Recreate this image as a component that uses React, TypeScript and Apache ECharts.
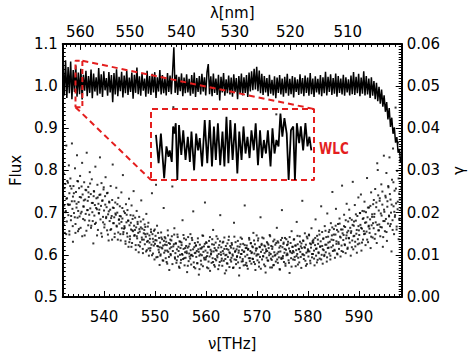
import React, { useEffect, useRef } from "react";
import * as echarts from "echarts";

const C_LIGHT = 299792.458; // nm * THz

const NU_RANGE = [531.9, 598.4];
const FLUX_RANGE = [0.5, 1.1];
const GAMMA_RANGE = [0, 0.06];

const NU_TICKS = [540, 550, 560, 570, 580, 590];
const LAMBDA_TICKS = [560, 550, 540, 530, 520, 510];

// Flux (WLC) sampled on a regular frequency grid
const FLUX_NU_START = 531.95;
const FLUX_NU_STEP = 0.25;
const FLUX_VALUES = [
  1.052, 0.978, 1.061, 0.972, 1.045, 0.983, 1.058, 0.969, 1.038, 0.986,
  1.049, 0.975, 1.032, 0.981, 1.041, 0.968, 1.027, 0.989, 1.036, 0.976,
  1.024, 0.984, 1.039, 0.971, 1.030, 0.987, 1.021, 0.978, 1.043, 0.982,
  1.028, 0.974, 1.035, 0.990, 1.019, 0.977, 1.033, 0.985, 1.026, 0.962,
  1.031, 0.980, 1.040, 0.976, 1.022, 0.988, 1.034, 0.973, 1.025, 0.983,
  1.037, 0.979, 1.020, 0.986, 1.032, 0.970, 1.027, 0.984, 1.044, 0.981,
  1.023, 0.977, 1.030, 0.989, 1.018, 0.975, 1.036, 0.982, 1.024, 0.979,
  1.029, 0.985, 1.033, 0.972, 1.021, 0.987, 1.038, 0.980, 1.026, 0.983,
  1.019, 0.978, 1.031, 0.986, 1.025, 0.981, 1.034, 1.092, 0.984, 1.027,
  0.979, 1.022, 0.988, 1.030, 0.976, 1.020, 0.983, 1.028, 0.985, 1.017,
  0.977, 1.026, 0.982, 1.032, 0.974, 1.019, 0.986, 1.024, 0.980, 1.029,
  0.987, 1.021, 0.978, 1.033, 1.052, 0.981, 1.023, 0.976, 1.030, 0.984,
  1.018, 0.979, 1.027, 0.966, 1.022, 0.985, 1.031, 0.977, 1.016, 0.983,
  1.025, 0.980, 1.020, 0.975, 1.028, 0.986, 1.019, 0.969, 1.024, 0.982,
  1.030, 0.978, 1.021, 0.984, 1.026, 0.974, 1.032, 0.987, 1.035, 0.990,
  1.041, 0.992, 1.046, 0.988, 1.037, 0.983, 1.029, 0.979, 1.024, 0.985,
  1.019, 0.976, 1.027, 0.982, 1.015, 0.978, 1.023, 0.971, 1.020, 0.984,
  1.026, 0.980, 1.018, 0.975, 1.022, 0.983, 1.029, 0.977, 1.017, 0.981,
  1.024, 0.973, 1.021, 0.986, 1.016, 0.979, 1.028, 0.982, 1.019, 0.976,
  1.025, 0.984, 1.020, 0.977, 1.031, 0.981, 1.018, 0.974, 1.023, 0.985,
  1.017, 0.980, 1.026, 0.976, 1.021, 0.983, 1.034, 0.978, 1.022, 0.986,
  1.028, 0.979, 1.019, 0.982, 1.030, 0.975, 1.024, 0.984, 1.018, 0.980,
  1.027, 0.977, 1.021, 0.985, 1.016, 0.978, 1.025, 0.981, 1.033, 0.979,
  1.022, 0.983, 1.029, 0.976, 1.020, 0.982, 1.035, 0.978, 1.024, 0.980,
  1.018, 0.972, 1.021, 0.977, 1.012, 0.969, 1.008, 0.964, 0.998, 0.958,
  0.992, 0.951, 0.978, 0.939, 0.962, 0.921, 0.948, 0.903, 0.925, 0.887,
  0.902, 0.866, 0.879, 0.842, 0.851, 0.818,
];

// gamma points: [nu (THz), gamma (units of 1e-3)] — full spread
const GAMMA_POINTS = [
  [532.0,24.1],[532.1,18.6],[532.1,29.3],[532.2,21.7],[532.3,15.2],[532.4,26.8],[532.5,20.4],[532.6,35.9],[532.6,23.3],[532.7,17.9],[532.8,27.5],[532.9,22.0],
  [533.0,19.4],[533.1,31.2],[533.2,24.6],[533.2,14.8],[533.3,21.9],[533.4,28.1],[533.5,18.2],[533.6,25.7],[533.7,36.4],[533.8,20.9],[533.9,23.8],[533.9,13.1],
  [534.0,26.3],[534.1,19.9],[534.2,22.7],[534.3,30.5],[534.4,17.3],[534.5,24.9],[534.6,21.2],[534.7,33.6],[534.8,18.8],[534.9,27.4],[534.9,15.6],
  [535.0,22.5],[535.1,25.8],[535.2,19.1],[535.3,28.7],[535.4,16.4],[535.5,23.6],[535.6,20.2],[535.7,31.8],[535.8,24.3],[535.9,18.5],
  [536.0,21.4],[536.1,27.2],[536.2,14.6],[536.3,23.1],[536.4,19.7],[536.5,25.3],[536.6,34.2],[536.7,20.6],[536.8,22.8],[536.9,17.0],[536.9,26.1],
  [537.0,23.7],[537.1,18.1],[537.2,29.6],[537.3,21.0],[537.4,24.4],[537.5,16.9],[537.6,27.9],[537.7,20.1],[537.8,22.3],[537.9,12.7],
  [538.0,25.1],[538.1,19.3],[538.2,21.8],[538.3,30.9],[538.4,17.6],[538.5,23.4],[538.6,20.8],[538.7,26.6],[538.8,15.9],[538.9,22.1],
  [539.0,19.8],[539.1,24.2],[539.2,33.1],[539.3,18.4],[539.4,21.6],[539.5,27.0],[539.6,14.3],[539.7,22.9],[539.8,19.0],[539.9,25.5],
  [540.0,20.5],[540.1,17.2],[540.2,23.9],[540.3,28.4],[540.4,18.7],[540.5,21.3],[540.6,15.8],[540.7,24.7],[540.8,19.6],[540.9,13.4],
  [541.0,22.6],[541.1,18.0],[541.2,20.7],[541.3,26.3],[541.4,16.1],[541.5,19.2],[541.6,23.0],[541.7,31.4],[541.8,17.5],[541.9,21.1],
  [542.0,18.9],[542.1,15.0],[542.2,22.4],[542.3,19.5],[542.4,25.9],[542.5,16.7],[542.6,20.0],[542.7,13.6],[542.8,23.5],[542.9,18.3],
  [543.0,17.4],[543.1,21.5],[543.2,14.9],[543.3,19.1],[543.4,24.8],[543.5,16.3],[543.6,18.6],[543.7,28.9],[543.8,15.4],[543.9,20.3],
  [544.0,16.8],[544.1,19.9],[544.2,13.2],[544.3,22.0],[544.4,17.7],[544.5,15.1],[544.6,20.6],[544.7,18.1],[544.8,11.9],[544.9,23.3],
  [545.0,17.0],[545.1,14.4],[545.2,19.4],[545.3,16.0],[545.4,21.7],[545.5,12.8],[545.6,18.5],[545.7,15.6],[545.8,25.1],[545.9,16.9],
  [546.0,14.7],[546.1,18.8],[546.2,12.3],[546.3,16.5],[546.4,20.4],[546.5,13.9],[546.6,17.3],[546.7,15.2],[546.8,10.6],[546.9,19.0],
  [547.0,15.5],[547.1,13.0],[547.2,17.9],[547.3,22.9],[547.4,14.1],[547.5,16.2],[547.6,11.4],[547.7,18.4],[547.8,13.6],[547.9,15.9],
  [548.0,12.5],[548.1,16.6],[548.2,14.3],[548.3,19.7],[548.4,11.1],[548.5,15.0],[548.6,13.3],[548.7,17.6],[548.8,9.8],[548.9,14.6],
  [549.0,13.8],[549.1,11.6],[549.2,16.0],[549.3,12.4],[549.4,24.6],[549.5,14.9],[549.6,10.3],[549.7,13.1],[549.8,15.7],[549.9,8.9],
  [550.0,12.6],[550.1,14.5],[550.2,26.6],[550.3,13.4],[550.4,16.9],[550.5,9.5],[550.6,12.0],[550.7,11.2],[550.8,14.0],[550.9,7.6],
  [551.0,12.9],[551.1,10.1],[551.2,15.3],[551.3,11.7],[551.4,13.7],[551.5,8.7],[551.6,12.2],[551.7,21.1],[551.8,10.5],[551.9,14.2],
  [552.0,11.0],[552.1,9.2],[552.2,13.1],[552.3,12.3],[552.4,7.9],[552.5,15.8],[552.6,10.7],[552.7,12.8],[552.8,6.4],[552.9,11.5],
  [553.0,13.6],[553.1,9.9],[553.2,11.8],[553.3,14.4],[553.4,26.2],[553.5,10.9],[553.6,45.0],[553.7,12.5],[553.8,16.3],[553.9,9.4],
  [554.0,10.4],[554.1,12.7],[554.2,8.1],[554.3,11.3],[554.4,14.8],[554.5,9.6],[554.6,11.9],[554.7,7.2],[554.8,13.2],[554.9,10.0],
  [555.0,11.6],[555.1,8.8],[555.2,12.9],[555.3,10.2],[555.4,18.2],[555.5,9.0],[555.6,11.4],[555.7,13.9],[555.8,7.5],[555.9,10.6],
  [556.0,9.3],[556.1,12.1],[556.2,10.8],[556.3,5.9],[556.4,11.7],[556.5,14.2],[556.6,8.5],[556.7,10.3],[556.8,12.6],[556.9,9.1],
  [557.0,11.1],[557.1,7.7],[557.2,10.0],[557.3,13.5],[557.4,9.7],[557.5,20.3],[557.6,8.2],[557.7,11.8],[557.8,10.4],[557.9,6.8],
  [558.0,12.2],[558.1,9.5],[558.2,10.9],[558.3,8.0],[558.4,13.0],[558.5,11.3],[558.6,5.3],[558.7,9.8],[558.8,12.4],[558.9,10.1],
  [559.0,8.6],[559.1,11.5],[559.2,9.9],[559.3,14.6],[559.4,7.3],[559.5,10.7],[559.6,12.0],[559.7,8.9],[559.8,22.4],[559.9,11.0],
  [560.0,9.4],[560.1,12.8],[560.2,7.0],[560.3,10.5],[560.4,11.9],[560.5,8.4],[560.6,13.3],[560.7,9.6],[560.8,6.2],[560.9,11.2],
  [561.0,10.3],[561.1,8.1],[561.2,12.5],[561.3,9.2],[561.4,15.9],[561.5,10.8],[561.6,7.6],[561.7,11.6],[561.8,9.0],[561.9,12.9],
  [562.0,8.7],[562.1,11.0],[562.2,9.8],[562.3,13.8],[562.4,6.6],[562.5,10.2],[562.6,12.3],[562.7,8.3],[562.8,19.4],[562.9,10.6],
  [563.0,11.8],[563.1,9.1],[563.2,7.4],[563.3,10.9],[563.4,13.1],[563.5,8.6],[563.6,11.4],[563.7,5.6],[563.8,9.9],[563.9,12.1],
  [564.0,10.0],[564.1,8.0],[564.2,12.7],[564.3,9.5],[564.4,11.2],[564.5,14.3],[564.6,7.1],[564.7,10.4],[564.8,8.8],[564.9,11.7],
  [565.0,9.3],[565.1,12.4],[565.2,10.1],[565.3,6.9],[565.4,11.5],[565.5,17.6],[565.6,8.9],[565.7,10.7],[565.8,13.0],[565.9,7.8],
  [566.0,11.3],[566.1,9.7],[566.2,12.0],[566.3,8.2],[566.4,10.5],[566.5,5.1],[566.6,11.9],[566.7,9.4],[566.8,14.1],[566.9,10.2],
  [567.0,8.4],[567.1,11.1],[567.2,9.0],[567.3,12.6],[567.4,7.5],[567.5,10.8],[567.6,21.7],[567.7,9.6],[567.8,11.6],[567.9,8.1],
  [568.0,12.2],[568.1,10.0],[568.2,6.7],[568.3,11.4],[568.4,9.2],[568.5,13.6],[568.6,8.5],[568.7,10.9],[568.8,12.8],[568.9,7.9],
  [569.0,10.6],[569.1,9.1],[569.2,11.8],[569.3,15.2],[569.4,8.3],[569.5,10.3],[569.6,12.5],[569.7,6.4],[569.8,11.0],[569.9,9.8],
  [570.0,11.5],[570.1,8.7],[570.2,13.4],[570.3,10.1],[570.4,7.2],[570.5,11.9],[570.6,9.5],[570.7,18.9],[570.8,10.7],[570.9,12.3],
  [571.0,8.9],[571.1,11.2],[571.2,9.7],[571.3,13.9],[571.4,7.7],[571.5,10.4],[571.6,12.0],[571.7,5.8],[571.8,11.3],[571.9,9.3],
  [572.0,10.9],[572.1,12.7],[572.2,8.6],[572.3,11.6],[572.4,9.9],[572.5,14.7],[572.6,7.0],[572.7,10.2],[572.8,12.1],[572.9,8.8],
  [573.0,11.4],[573.1,9.6],[573.2,13.2],[573.3,7.6],[573.4,10.6],[573.5,9.8],[573.6,12.4],[573.7,8.4],[573.8,43.3],[573.9,16.4],
  [574.0,10.3],[574.1,8.1],[574.2,12.9],[574.3,9.4],[574.4,11.7],[574.5,6.5],[574.6,10.8],[574.7,13.5],[574.8,9.0],[574.9,20.6],
  [575.0,11.8],[575.1,9.7],[575.2,12.6],[575.3,8.3],[575.4,10.5],[575.5,14.0],[575.6,7.4],[575.7,11.2],[575.8,9.9],[575.9,12.3],
  [576.0,10.0],[576.1,13.1],[576.2,8.7],[576.3,11.5],[576.4,5.7],[576.5,10.9],[576.6,12.8],[576.7,9.2],[576.8,15.6],[576.9,10.4],
  [577.0,11.9],[577.1,8.9],[577.2,10.6],[577.3,13.7],[577.4,9.5],[577.5,12.2],[577.6,7.3],[577.7,11.1],[577.8,17.8],[577.9,10.2],
  [578.0,12.5],[578.1,9.3],[578.2,11.4],[578.3,8.2],[578.4,14.4],[578.5,10.7],[578.6,12.0],[578.7,6.9],[578.8,11.6],[578.9,22.8],
  [579.0,10.1],[579.1,13.3],[579.2,9.0],[579.3,11.8],[579.4,15.1],[579.5,8.6],[579.6,12.4],[579.7,10.5],[579.8,7.8],[579.9,13.9],
  [580.0,11.3],[580.1,9.6],[580.2,14.8],[580.3,10.8],[580.4,12.7],[580.5,8.0],[580.6,11.7],[580.7,16.3],[580.8,9.4],[580.9,12.9],
  [581.0,10.2],[581.1,13.6],[581.2,11.0],[581.3,7.5],[581.4,12.3],[581.5,18.4],[581.6,9.8],[581.7,11.5],[581.8,14.5],[581.9,8.8],
  [582.0,12.6],[582.1,10.4],[582.2,15.7],[582.3,9.1],[582.4,11.9],[582.5,13.2],[582.6,21.5],[582.7,10.0],[582.8,12.1],[582.9,7.9],
  [583.0,13.8],[583.1,11.1],[583.2,9.7],[583.3,16.8],[583.4,12.4],[583.5,10.6],[583.6,14.2],[583.7,8.4],[583.8,19.8],[583.9,11.6],
  [584.0,12.9],[584.1,15.4],[584.2,10.3],[584.3,13.1],[584.4,8.9],[584.5,17.5],[584.6,11.8],[584.7,14.6],[584.8,24.9],[584.9,10.9],
  [585.0,13.5],[585.1,16.1],[585.2,11.2],[585.3,9.3],[585.4,14.8],[585.5,20.9],[585.6,12.6],[585.7,15.9],[585.8,10.1],[585.9,17.3],
  [586.0,13.0],[586.1,11.4],[586.2,18.6],[586.3,14.3],[586.4,9.6],[586.5,16.0],[586.6,12.2],[586.7,26.4],[586.8,15.1],[586.9,10.7],
  [587.0,14.7],[587.1,19.5],[587.2,12.5],[587.3,16.6],[587.4,10.4],[587.5,13.9],[587.6,22.1],[587.7,15.3],[587.8,11.7],[587.9,17.9],
  [588.0,14.0],[588.1,20.7],[588.2,12.9],[588.3,16.4],[588.4,9.8],[588.5,15.6],[588.6,18.3],[588.7,13.4],[588.8,27.3],[588.9,11.3],
  [589.0,16.9],[589.1,14.5],[589.2,21.8],[589.3,12.0],[589.4,18.1],[589.5,15.0],[589.6,10.5],[589.7,19.2],[589.8,13.7],[589.9,23.6],
  [590.0,15.8],[590.1,12.7],[590.2,19.9],[590.3,17.1],[590.4,24.3],[590.5,11.0],[590.6,16.2],[590.7,20.4],[590.8,13.6],[590.9,18.7],
  [591.0,14.9],[591.1,22.6],[591.2,17.6],[591.3,12.3],[591.4,20.1],[591.5,15.5],[591.6,28.2],[591.7,18.9],[591.8,13.0],[591.9,16.7],
  [592.0,21.2],[592.1,15.2],[592.2,18.4],[592.3,11.6],[592.4,24.8],[592.5,17.0],[592.6,19.6],[592.7,14.1],[592.8,22.0],[592.9,16.3],
  [593.0,19.0],[593.1,13.8],[593.2,25.6],[593.3,17.7],[593.4,21.3],[593.5,12.8],[593.6,31.7],[593.7,30.1],[593.8,15.8],[593.9,20.5],
  [594.0,17.2],[594.1,23.4],[594.2,14.4],[594.3,19.8],[594.4,26.7],[594.5,16.5],[594.6,21.9],[594.7,11.9],[594.8,18.0],[594.9,33.5],
  [595.0,20.2],[595.1,15.6],[595.2,24.0],[595.3,18.5],[595.4,29.4],[595.5,13.3],[595.6,22.7],[595.7,17.4],[595.8,26.0],[595.9,19.3],
  [596.0,33.1],[596.1,16.8],[596.2,23.1],[596.3,20.0],[596.4,10.8],[596.5,27.8],[596.6,18.2],[596.7,35.2],[596.8,21.5],[596.9,14.9],
  [597.0,25.2],[597.1,19.4],[597.2,44.9],[597.3,22.2],[597.4,16.0],[597.5,29.9],[597.6,20.8],[597.7,36.6],[597.8,13.7],[597.9,24.5],
  [598.0,18.6],[598.1,32.4],[598.2,21.0],[598.3,27.1],
];

// more gamma points in the crowded part of the cloud: [nu (THz), gamma (units of 1e-3)]
const GAMMA_CORE = [
  [532.07,17.2],[532.23,25.8],[532.41,20.1],[532.58,14.9],[532.74,23.4],[532.92,27.1],
  [533.04,21.8],[533.19,15.6],[533.37,26.3],[533.55,19.2],[533.68,22.7],[533.86,16.8],
  [534.08,24.6],[534.26,18.9],[534.39,15.2],[534.61,22.1],[534.77,27.5],[534.93,20.4],
  [535.06,16.1],[535.24,23.7],[535.43,19.8],[535.59,26.2],[535.72,14.4],[535.95,21.5],
  [536.03,22.9],[536.21,18.2],[536.36,25.4],[536.54,15.7],[536.79,20.6],[536.94,24.8],
  [537.09,19.5],[537.27,26.9],[537.44,16.4],[537.61,22.3],[537.78,18.0],[537.96,23.9],
  [538.05,25.0],[538.22,17.3],[538.45,21.1],[538.63,14.6],[538.76,23.6],[538.97,19.9],
  [539.08,20.7],[539.28,24.3],[539.46,15.1],[539.64,22.8],[539.81,17.7],[539.94,26.0],
  [540.06,16.5],[540.24,21.9],[540.43,19.0],[540.57,24.6],[540.76,14.8],[540.93,20.3],
  [541.04,22.4],[541.26,15.9],[541.39,18.7],[541.58,13.6],[541.73,21.2],[541.91,17.5],
  [542.07,14.2],[542.24,19.8],[542.46,16.9],[542.62,22.0],[542.79,15.3],[542.95,18.4],
  [543.09,19.2],[543.27,13.4],[543.41,17.8],[543.59,21.1],[543.76,14.9],[543.92,16.2],
  [544.05,16.4],[544.22,12.6],[544.44,19.5],[544.61,14.3],[544.78,18.1],[544.96,13.0],
  [545.08,13.7],[545.26,17.6],[545.37,11.9],[545.55,15.8],[545.74,19.3],[545.93,14.5],
  [546.06,15.9],[546.23,11.2],[546.42,14.4],[546.58,17.8],[546.77,12.3],[546.94,16.1],
  [547.04,12.0],[547.21,16.5],[547.46,13.6],[547.63,10.4],[547.79,15.1],[547.97,17.2],
  [548.08,14.9],[548.25,10.8],[548.43,13.1],[548.59,16.7],[548.74,11.5],[548.91,12.9],
  [549.05,11.0],[549.23,15.4],[549.41,9.9],[549.57,13.8],[549.76,12.2],[549.95,16.0],
  [550.07,13.5],[550.26,9.4],[550.44,12.1],[550.61,15.2],[550.79,10.6],[550.92,11.8],
  [551.06,9.8],[551.24,14.1],[551.43,11.5],[551.62,8.6],[551.75,13.3],[551.96,12.4],
  [552.04,13.9],[552.28,8.3],[552.39,11.0],[552.56,14.6],[552.73,9.5],[552.94,12.6],
  [553.05,10.2],[553.21,13.4],[553.42,7.8],[553.58,12.0],[553.77,14.8],[553.93,9.1],
  [554.06,12.7],[554.27,8.7],[554.45,14.2],[554.63,10.9],[554.81,6.9],[554.97,13.1],
  [555.04,8.1],[555.22,12.3],[555.39,10.0],[555.58,14.7],[555.74,9.2],[555.91,11.6],
  [556.08,13.6],[556.24,10.4],[556.43,7.4],[556.61,12.0],[556.79,9.6],[556.95,14.9],
  [557.06,9.9],[557.23,14.0],[557.47,11.3],[557.64,7.1],[557.82,12.8],[557.96,10.5],
  [558.05,12.2],[558.29,8.0],[558.41,13.9],[558.57,10.7],[558.73,6.6],[558.92,11.5],
  [559.07,7.7],[559.26,11.8],[559.44,14.5],[559.63,9.3],[559.77,12.6],[559.94,8.9],
  [560.04,13.0],[560.21,9.7],[560.46,6.8],[560.62,11.9],[560.78,14.2],[560.97,10.1],
  [561.08,10.8],[561.23,13.7],[561.39,8.3],[561.56,12.4],[561.74,7.2],[561.93,11.1],
  [562.06,14.4],[562.24,9.4],[562.42,11.7],[562.58,7.5],[562.76,13.2],[562.95,10.0],
  [563.05,8.6],[563.27,12.9],[563.44,10.3],[563.61,14.1],[563.79,9.0],[563.96,6.3],
  [564.07,11.4],[564.22,7.9],[564.43,13.5],[564.59,10.6],[564.77,12.1],[564.94,8.4],
  [565.04,12.8],[565.26,9.8],[565.41,7.0],[565.57,14.3],[565.76,10.9],[565.92,8.8],
  [566.08,9.5],[566.25,13.3],[566.44,11.0],[566.62,6.9],[566.78,12.5],[566.95,10.2],
  [567.06,13.8],[567.23,8.5],[567.42,10.7],[567.59,12.3],[567.74,7.6],[567.97,11.6],
  [568.05,7.4],[568.24,11.2],[568.46,14.0],[568.63,9.2],[568.79,12.7],[568.93,10.4],
  [569.07,12.0],[569.22,9.0],[569.43,13.4],[569.61,7.8],[569.78,11.5],[569.94,14.6],
  [570.06,10.1],[570.27,13.9],[570.41,8.2],[570.58,11.8],[570.76,6.7],[570.92,12.6],
  [571.05,14.1],[571.24,9.6],[571.44,12.2],[571.62,7.3],[571.77,10.8],[571.96,13.0],
  [572.08,8.7],[572.26,12.4],[572.43,10.5],[572.59,14.4],[572.74,9.1],[572.95,7.0],
  [573.04,11.9],[573.21,7.5],[573.42,13.6],[573.63,10.0],[573.79,12.8],[573.97,8.9],
  [574.06,13.2],[574.23,10.7],[574.45,6.6],[574.61,12.1],[574.78,9.3],[574.93,14.0],
  [575.07,9.2],[575.24,12.9],[575.43,11.4],[575.58,7.9],[575.76,13.7],[575.94,10.3],
  [576.05,12.5],[576.28,8.1],[576.42,14.2],[576.57,10.6],[576.79,7.2],[576.96,11.9],
  [577.08,10.9],[577.22,13.6],[577.41,8.8],[577.62,12.2],[577.77,9.7],[577.95,14.5],
  [578.04,7.7],[578.26,11.3],[578.44,13.1],[578.59,9.5],[578.73,12.7],[578.92,10.1],
  [579.06,13.4],[579.27,9.9],[579.42,11.7],[579.61,7.4],[579.78,14.3],[579.96,10.8],
  [580.07,11.0],[580.23,14.6],[580.44,8.6],[580.62,12.5],[580.79,10.2],[580.94,13.3],
  [581.05,12.9],[581.21,9.1],[581.43,14.0],[581.58,11.4],[581.77,8.2],[581.95,13.6],
  [582.08,10.6],[582.26,14.8],[582.42,12.0],[582.61,8.9],[582.79,15.4],[582.93,11.3],
  [583.04,13.9],[583.23,10.0],[583.45,15.7],[583.62,12.4],[583.76,9.4],[583.97,14.3],
  [584.06,11.7],[584.24,15.9],[584.41,9.8],[584.63,13.6],[584.78,16.5],[584.92,12.2],
  [585.07,14.8],[585.25,11.0],[585.44,16.9],[585.59,13.2],[585.73,10.3],[585.96,15.5],
  [586.05,12.6],[586.22,17.4],[586.43,14.1],[586.61,10.9],[586.79,16.0],[586.94,13.5],
  [587.08,16.8],[587.26,12.3],[587.42,18.2],[587.57,14.6],[587.76,11.4],[587.93,15.7],
  [588.06,13.9],[588.23,18.7],[588.44,15.2],[588.62,11.8],[588.77,17.1],[588.95,14.4],
  [589.04,17.9],[589.27,13.1],[589.41,19.6],[589.58,15.9],[589.79,12.5],[589.92,16.8],
  [590.07,14.7],[590.24,19.9],[590.43,16.4],[590.61,12.9],[590.76,18.5],[590.97,15.6],
  [591.05,20.3],[591.22,15.0],[591.44,17.7],[591.63,13.6],[591.77,21.2],[591.94,16.9],
  [592.08,16.2],[592.25,21.6],[592.41,14.3],[592.59,19.0],[592.78,17.5],[592.93,23.0],
  [593.06,19.7],[593.24,14.9],[593.43,22.4],[593.62,17.1],[593.79,24.1],[593.95,15.8],
  [594.07,22.8],[594.23,16.6],[594.46,19.3],[594.61,25.0],[594.77,14.2],[594.94,20.7],
  [595.05,18.0],[595.26,23.6],[595.42,15.4],[595.58,21.4],[595.76,26.3],[595.93,19.1],
  [596.08,24.4],[596.24,17.3],[596.43,21.9],[596.62,15.9],[596.77,27.2],[596.95,20.2],
  [597.06,19.0],[597.27,25.7],[597.41,16.7],[597.63,22.6],[597.79,28.1],[597.92,18.4],
  [598.05,23.1],[598.18,16.2],[598.33,25.9],
];

// zoomed region (small box on the WLC) and its magnified content
const ZOOM_NU = [534.4, 535.75];
const ZOOM_FLUX = [0.95, 1.06];
const INSET_NU = [
  534.441, 534.463, 534.482, 534.509, 534.528, 534.545, 534.555, 534.572, 534.583, 534.594,
  534.605, 534.618, 534.632, 534.651, 534.667, 534.686, 534.705, 534.722, 534.735, 534.757,
  534.774, 534.790, 534.804, 534.823, 534.845, 534.866, 534.886, 534.905, 534.921, 534.937,
  534.954, 534.973, 534.992, 535.008, 535.025, 535.041, 535.057, 535.076, 535.096, 535.115,
  535.131, 535.150, 535.166, 535.183, 535.199, 535.216, 535.232, 535.251, 535.267, 535.286,
  535.303, 535.319, 535.335, 535.352, 535.368, 535.390, 535.406, 535.423, 535.439, 535.456,
  535.472, 535.488, 535.505, 535.524, 535.540, 535.559, 535.578, 535.592, 535.608, 535.627,
  535.641, 535.660, 535.679, 535.696, 535.712, 535.728,
];
const INSET_FLUX = [
  1.020, 0.976, 1.022, 0.953, 1.002, 0.986, 0.996, 0.978, 1.033, 1.022,
  1.038, 0.950, 1.035, 0.989, 1.027, 0.981, 1.017, 0.978, 1.025, 0.965,
  1.022, 0.996, 1.015, 0.971, 1.043, 0.976, 1.043, 0.971, 1.033, 0.981,
  1.038, 0.973, 1.025, 0.971, 1.048, 0.976, 1.043, 0.981, 1.038, 0.960,
  1.025, 0.981, 1.033, 0.991, 1.017, 0.984, 1.027, 0.996, 1.038, 0.973,
  1.027, 0.984, 1.012, 0.991, 1.027, 0.971, 1.030, 0.991, 1.012, 1.002,
  1.053, 1.017, 1.046, 1.022, 0.950, 1.027, 1.033, 0.950, 1.038, 1.007,
  1.033, 0.996, 1.038, 1.002, 1.017, 0.996,
];

const RED = "#e41e1e";
const FONT = "DejaVu Sans";

export default function App() {
  const ref = useRef<HTMLDivElement>(null);

  useEffect(() => {
    const el = ref.current;
    if (!el) return;
    const chart = echarts.init(el, null, { renderer: "svg" });

    const fluxData = FLUX_VALUES.map((v, i) => [FLUX_NU_START + i * FLUX_NU_STEP, v]);
    const gammaData = GAMMA_POINTS.concat(GAMMA_CORE).map(([nu, g]) => [nu, g / 1000]);
    const insetData = INSET_NU.map((nu, i) => [nu, INSET_FLUX[i]]);
    const boxData = [
      [ZOOM_NU[0], ZOOM_FLUX[0]],
      [ZOOM_NU[1], ZOOM_FLUX[0]],
      [ZOOM_NU[1], ZOOM_FLUX[1]],
      [ZOOM_NU[0], ZOOM_FLUX[1]],
      [ZOOM_NU[0], ZOOM_FLUX[0]],
    ];

    const nuMinor: number[] = [];
    for (let v = Math.ceil(NU_RANGE[0]); v <= NU_RANGE[1]; v++) nuMinor.push(v);
    const lambdaMajor = LAMBDA_TICKS.map((nm) => C_LIGHT / nm);
    const lambdaMinor: number[] = [];
    for (let nm = Math.floor(C_LIGHT / NU_RANGE[0]); nm >= C_LIGHT / NU_RANGE[1]; nm--) {
      lambdaMinor.push(C_LIGHT / nm);
    }

    const axisText = { color: "#000", fontSize: 15, fontFamily: FONT };
    const nameText = { color: "#000", fontSize: 15, fontFamily: FONT };
    const frame = { show: true, lineStyle: { color: "#000", width: 2 } };
    const tickStyle = { color: "#000", width: 1 };
    const noSplit = { show: false };

    chart.setOption({
      animation: false,
      backgroundColor: "#fff",
      textStyle: { fontFamily: FONT },
      grid: [
        { left: 54, top: 42, width: 359, height: 259, show: false },
        { left: 151, top: 109, width: 163, height: 71, show: false },
      ],
      xAxis: [
        {
          gridIndex: 0, type: "value", position: "bottom",
          min: NU_RANGE[0], max: NU_RANGE[1],
          axisLine: frame,
          axisTick: { show: true, inside: true, length: 6, customValues: NU_TICKS, lineStyle: tickStyle },
          axisLabel: { ...axisText, customValues: NU_TICKS, margin: 12, formatter: (v: number) => String(Math.round(v)) },
          splitLine: noSplit,
          name: "ν[THz]", nameLocation: "middle", nameGap: 39, nameTextStyle: nameText,
        },
        {
          gridIndex: 0, type: "value", position: "bottom",
          min: NU_RANGE[0], max: NU_RANGE[1],
          axisLine: { show: false },
          axisTick: { show: true, inside: true, length: 3, customValues: nuMinor, lineStyle: tickStyle },
          axisLabel: { show: false },
          splitLine: noSplit,
        },
        {
          gridIndex: 0, type: "value", position: "top",
          min: NU_RANGE[0], max: NU_RANGE[1],
          axisLine: frame,
          axisTick: { show: true, inside: true, length: 6, customValues: lambdaMajor, lineStyle: tickStyle },
          axisLabel: { ...axisText, customValues: lambdaMajor, margin: 4, formatter: (v: number) => String(Math.round(C_LIGHT / v)) },
          splitLine: noSplit,
          name: "λ[nm]", nameLocation: "middle", nameGap: 22, nameTextStyle: nameText,
        },
        {
          gridIndex: 0, type: "value", position: "top",
          min: NU_RANGE[0], max: NU_RANGE[1],
          axisLine: { show: false },
          axisTick: { show: true, inside: true, length: 3, customValues: lambdaMinor, lineStyle: tickStyle },
          axisLabel: { show: false },
          splitLine: noSplit,
        },
        { gridIndex: 1, type: "value", min: ZOOM_NU[0], max: ZOOM_NU[1], show: false },
      ],
      yAxis: [
        {
          gridIndex: 0, type: "value", position: "left",
          min: FLUX_RANGE[0], max: FLUX_RANGE[1], interval: 0.1,
          axisLine: frame,
          axisTick: { show: true, inside: true, length: 6, lineStyle: tickStyle },
          minorTick: { show: true, splitNumber: 10, length: 3, lineStyle: tickStyle },
          axisLabel: { ...axisText, margin: 5, formatter: (v: number) => v.toFixed(1) },
          splitLine: noSplit, minorSplitLine: { show: false },
          name: "Flux", nameLocation: "middle", nameGap: 29, nameTextStyle: nameText,
        },
        {
          gridIndex: 0, type: "value", position: "right",
          min: GAMMA_RANGE[0], max: GAMMA_RANGE[1], interval: 0.01,
          axisLine: frame,
          axisTick: { show: true, inside: true, length: 6, lineStyle: tickStyle },
          minorTick: { show: true, splitNumber: 16, length: 3, lineStyle: tickStyle },
          axisLabel: { ...axisText, margin: 5, formatter: (v: number) => v.toFixed(2) },
          splitLine: noSplit, minorSplitLine: { show: false },
          name: "γ", nameLocation: "middle", nameGap: 46, nameTextStyle: nameText,
        },
        { gridIndex: 1, type: "value", min: ZOOM_FLUX[0], max: ZOOM_FLUX[1], show: false },
      ],
      series: [
        {
          type: "line", xAxisIndex: 0, yAxisIndex: 0, data: fluxData,
          symbol: "none", showSymbol: false, silent: true, z: 4,
          lineStyle: { color: "#000", width: 1.5 },
        },
        {
          type: "scatter", xAxisIndex: 0, yAxisIndex: 1, data: gammaData,
          symbol: "rect", symbolSize: 2, silent: true, z: 3,
          itemStyle: { color: "#000" },
        },
        {
          type: "line", xAxisIndex: 0, yAxisIndex: 0, data: boxData,
          symbol: "none", silent: true, z: 5, clip: false,
          lineStyle: { color: RED, width: 2, type: [5, 3] },
        },
        {
          type: "line", xAxisIndex: 4, yAxisIndex: 2, data: boxData,
          symbol: "none", silent: true, z: 5, clip: false,
          lineStyle: { color: RED, width: 2, type: [6, 4] },
        },
        {
          type: "line", xAxisIndex: 4, yAxisIndex: 2, data: insetData,
          symbol: "none", silent: true, z: 6, clip: false,
          lineStyle: { color: "#000", width: 1.8 },
        },
      ],
    });

    const a1 = chart.convertToPixel({ seriesIndex: 0 }, [ZOOM_NU[1], ZOOM_FLUX[1]]) as number[];
    const b1 = chart.convertToPixel({ seriesIndex: 4 }, [ZOOM_NU[1], ZOOM_FLUX[1]]) as number[];
    const a2 = chart.convertToPixel({ seriesIndex: 0 }, [ZOOM_NU[0], ZOOM_FLUX[0]]) as number[];
    const b2 = chart.convertToPixel({ seriesIndex: 4 }, [ZOOM_NU[0], ZOOM_FLUX[0]]) as number[];
    const mid = chart.convertToPixel({ seriesIndex: 4 }, [ZOOM_NU[1], (ZOOM_FLUX[0] + ZOOM_FLUX[1]) / 2]) as number[];
    const dash = { stroke: RED, lineWidth: 2, lineDash: [6, 4], fill: "none" };

    chart.setOption({
      graphic: [
        { type: "line", shape: { x1: a1[0], y1: a1[1], x2: b1[0], y2: b1[1] }, style: dash, z: 10, silent: true },
        { type: "line", shape: { x1: a2[0], y1: a2[1], x2: b2[0], y2: b2[1] }, style: dash, z: 10, silent: true },
        {
          type: "text", x: mid[0] + 5, y: mid[1] + 4, scaleX: 0.8, silent: true, z: 10,
          style: { text: "WLC", fill: RED, font: `bold 15px "${FONT}"`, verticalAlign: "middle" },
        },
      ],
    });

    return () => chart.dispose();
  }, []);

  return (
    <div style={{ position: "fixed", left: 0, top: 0, width: 474, height: 356, background: "#fff" }}>
      <div ref={ref} style={{ width: 474, height: 356 }} />
    </div>
  );
}
